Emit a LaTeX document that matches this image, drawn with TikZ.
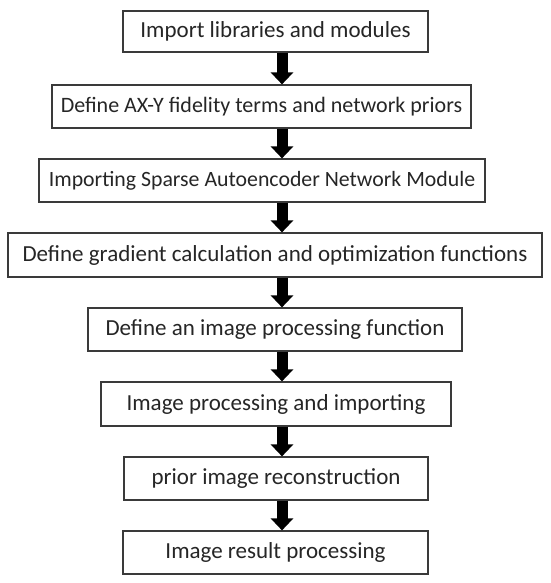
\documentclass[tikz,border=0pt]{standalone}
\usepackage{fontspec}
\setmainfont{Carlito}
\usetikzlibrary{arrows.meta}
\definecolor{txt}{HTML}{262626}
\definecolor{edge}{HTML}{3A3A3A}
\tikzset{
  stepbox/.style={draw=edge, line width=1.2pt, fill=white, rectangle, inner sep=0pt,
    font=\fontsize{23}{27}\selectfont, text=txt},
  smalltext/.style={font=\fontsize{#1}{26}\selectfont},
  flowarrow/.style={line width=11pt, -{Triangle[width=22pt,length=12pt]}, black}
}
\begin{document}
\begin{tikzpicture}[x=1pt,y=-1pt]
\useasboundingbox[fill=white] (0,0) rectangle (550,583);
\node[stepbox, minimum width=305pt, minimum height=41pt] (b1) at (275.5,31.5) {Import libraries and modules};
\node[stepbox, smalltext=22, minimum width=419pt, minimum height=43pt] (b2) at (261.5,106.5) {Define AX-Y fidelity terms and network priors};
\node[stepbox, smalltext=21.8, minimum width=446pt, minimum height=43pt] (b3) at (262,180.5) {Importing Sparse Autoencoder Network Module};
\node[stepbox, minimum width=534pt, minimum height=44pt] (b4) at (275,255) {Define gradient calculation and optimization functions};
\node[stepbox, minimum width=374pt, minimum height=43pt] (b5) at (275,329.5) {Define an image processing function};
\node[stepbox, minimum width=350pt, minimum height=44pt] (b6) at (276,404) {Image processing and importing};
\node[stepbox, minimum width=304pt, minimum height=43pt] (b7) at (276,478.5) {prior image reconstruction};
\node[stepbox, minimum width=305pt, minimum height=43pt] (b8) at (275.5,552.5) {Image result processing};
\coordinate (ax) at (282,0);
\foreach \a/\b in {b1/b2,b2/b3,b3/b4,b4/b5,b5/b6,b6/b7,b7/b8}{
  \draw[flowarrow] (\a.south -| ax) -- (\b.north -| ax);
}
\end{tikzpicture}
\end{document}
